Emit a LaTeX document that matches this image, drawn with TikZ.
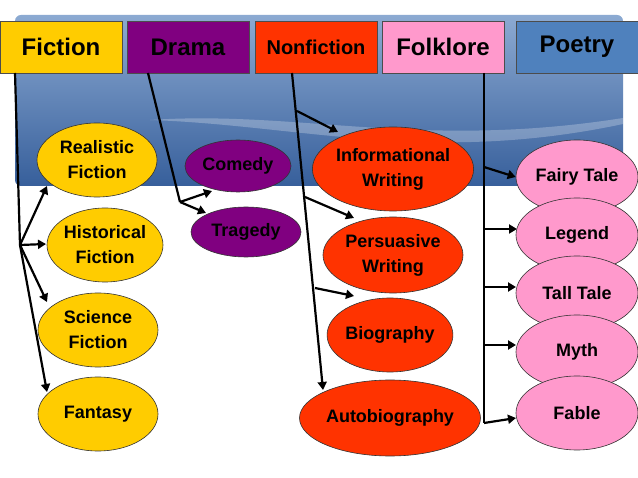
\documentclass[tikz,border=0pt]{standalone}
\usepackage{fontspec}
\setmainfont{Liberation Sans}
\usetikzlibrary{shapes.geometric,arrows.meta}
\definecolor{cfic}{RGB}{255,204,0}
\definecolor{cdra}{RGB}{128,0,128}
\definecolor{cnon}{RGB}{255,51,0}
\definecolor{cfol}{RGB}{255,153,204}
\definecolor{cpoe}{RGB}{79,129,189}
\definecolor{bgtop}{RGB}{140,170,210}
\definecolor{bgbot}{RGB}{55,95,155}
\tikzset{
 hdr/.style={draw=black!70,line width=0.6pt,minimum width=122pt,minimum height=52pt,inner sep=0pt,font=\fontsize{24}{26}\selectfont\bfseries},
 ell/.style={ellipse,draw=black!80,line width=0.6pt,inner sep=0pt,align=center,font=\fontsize{18}{25}\selectfont\bfseries},
 con/.style={line width=2.2pt,black},
 arr/.style={line width=2.2pt,black,-{Triangle[length=8pt,width=9pt]}}
}
\begin{document}
\begin{tikzpicture}[x=1pt,y=-1pt]
\useasboundingbox (0,0) rectangle (638,478);
\fill[white] (0,0) rectangle (638,478);
\shade[top color=bgtop,bottom color=bgbot,rounded corners=6pt] (15,15) rectangle (623,186);
\fill[white,opacity=0.25] (150,120) .. controls (300,110) and (420,150) .. (623,118) -- (623,124) .. controls (430,165) and (300,125) .. (150,120);
% headers
\node[hdr,fill=cfic] (fic) at (61,47) {Fiction};
\node[hdr,fill=cdra] (dra) at (188,47) {Drama};
\node[hdr,fill=cnon,font=\fontsize{20}{22}\selectfont\bfseries] (non) at (316,47) {Nonfiction};
\node[hdr,fill=cfol] (fol) at (443,47) {Folklore};
\node[hdr,fill=cpoe] (poe) at (577,47) {Poetry};
% fiction
\node[ell,fill=cfic,minimum width=120pt,minimum height=74pt] (rf) at (97,160) {Realistic\\Fiction};
\node[ell,fill=cfic,minimum width=116pt,minimum height=74pt] (hf) at (105,245) {Historical\\Fiction};
\node[ell,fill=cfic,minimum width=120pt,minimum height=74pt] (sf) at (98,330) {Science\\Fiction};
\node[ell,fill=cfic,minimum width=120pt,minimum height=74pt] (fa) at (98,414) {Fantasy};
% drama
\node[ell,fill=cdra,minimum width=106pt,minimum height=52pt] (co) at (238,166) {Comedy};
\node[ell,fill=cdra,minimum width=110pt,minimum height=50pt] (tr) at (246,232) {Tragedy};
% nonfiction
\node[ell,fill=cnon,minimum width=158pt,minimum height=84pt] (inf) at (393,169) {Informational\\Writing};
\node[ell,fill=cnon,minimum width=140pt,minimum height=76pt] (per) at (393,255) {Persuasive\\Writing};
\node[ell,fill=cnon,minimum width=120pt,minimum height=74pt] (bio) at (390,335) {Biography};
\node[ell,fill=cnon,minimum width=150pt,minimum height=76pt] (aut) at (390,418) {Autobiography};
% folklore
\node[ell,fill=cfol,minimum width=122pt,minimum height=74pt] (ft) at (577,177) {Fairy Tale};
\node[ell,fill=cfol,minimum width=122pt,minimum height=74pt] (le) at (577,235) {Legend};
\node[ell,fill=cfol,minimum width=122pt,minimum height=74pt] (tt) at (577,293) {Tall Tale};
\node[ell,fill=cfol,minimum width=122pt,minimum height=74pt] (my) at (577,352) {Myth};
\node[ell,fill=cfol,minimum width=122pt,minimum height=74pt] (fb) at (577,413) {Fable};
% fiction connectors
\coordinate (f0) at (15,73);
\coordinate (fb1) at (20,245);
\coordinate (fe) at (47,392);
\draw[con] (f0) -- (fb1);
\draw[arr] (fb1) -- (fe);
\draw[arr] (fb1) -- (47,186);
\draw[arr] (fb1) -- (46,244);
\draw[arr] (fb1) -- (47,302);
% drama
\coordinate (d0) at (148,73);
\coordinate (d1) at (180,202);
\draw[con] (d0) -- (d1);
\draw[arr] (d1) -- (212,191);
\draw[arr] (d1) -- (206,213);
% nonfiction
\coordinate (n0) at (292,73);
\coordinate (n1) at (323,390);
\draw[arr] (n0) -- (n1);
\draw[arr] (297,111) -- (338,132);
\draw[arr] (305,197) -- (354,218);
\draw[arr] (315,288) -- (354,296);
% folklore
\coordinate (l0) at (484,73);
\coordinate (l1) at (484,423);
\draw[con] (l0) -- (l1);
\draw[arr] (484,167) -- (ft.west);
\draw[arr] (484,229) -- (517,229);
\draw[arr] (484,287) -- (516,287);
\draw[arr] (484,345) -- (516,345);
\draw[arr] (l1) -- (516,418);
\end{tikzpicture}
\end{document}
